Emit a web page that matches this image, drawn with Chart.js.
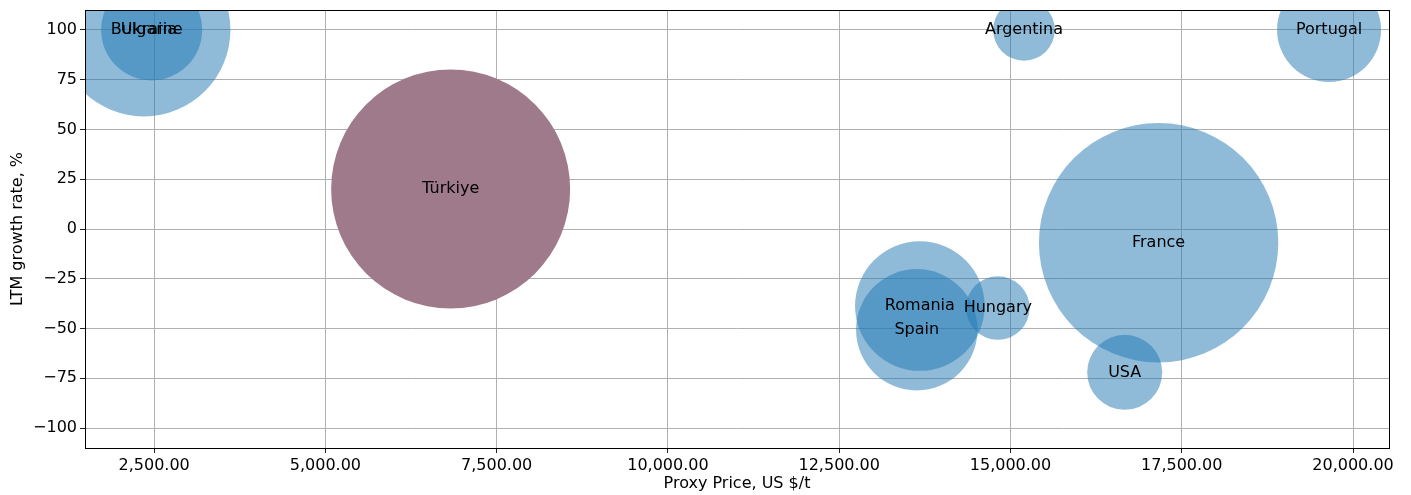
<!DOCTYPE html>
<html>
<head>
<meta charset="utf-8">
<script src="https://cdn.jsdelivr.net/npm/chart.js@4.4.0/dist/chart.umd.min.js"></script>
<style>
  html, body { margin: 0; padding: 0; background: #fff; }
  canvas { display: block; }
</style>
</head>
<body>
<canvas id="bubbleChart" width="1411" height="495"></canvas>
<script>
// data
const countries = ["Bulgaria", "Ukraine", "Türkiye", "Argentina", "Portugal", "France", "Romania", "Spain", "Hungary", "USA"];
const proxyPrice = [2351, 2464, 6828, 15197, 19650, 17162, 13677, 13632, 14815, 16667];
const growthRate = [100, 100, 20.1, 100, 100, -6.9, -38.7, -50.6, -39.7, -72.0];
const bubbleSize = [86.5, 50.5, 119.5, 30.8, 52, 119.7, 64.8, 60.7, 31.8, 37.5];
const xTicks = [2500, 5000, 7500, 10000, 12500, 15000, 17500, 20000];
const yTicks = [-100, -75, -50, -25, 0, 25, 50, 75, 100];

const blue = "rgba(31,119,180,0.5)";
const pointColors = countries.map(c => (c === "Türkiye" ? "#9f7a8a" : blue));

Chart.defaults.font.family = "'DejaVu Sans', sans-serif";
Chart.defaults.font.size = 16;
Chart.defaults.color = "#000";

// big bubbles should be cut at the frame, not shrink the plot area
Chart.BubbleController.prototype.getMaxOverflow = function () { return 0; };

// country names in the middle of each bubble
const labelPlugin = {
  id: "bubbleLabels",
  afterDraw(chart) {
    const ctx = chart.ctx;
    const meta = chart.getDatasetMeta(0);
    ctx.save();
    ctx.font = "16px 'DejaVu Sans', sans-serif";
    ctx.fillStyle = "#000";
    ctx.textAlign = "center";
    ctx.textBaseline = "middle";
    meta.data.forEach((pt, i) => {
      ctx.fillText(countries[i], pt.x, pt.y);
    });
    // frame around plot area
    const a = chart.chartArea;
    ctx.strokeStyle = "#000";
    ctx.lineWidth = 1;
    ctx.strokeRect(Math.round(a.left) + 0.5, Math.round(a.top) + 0.5, Math.round(a.right - a.left), Math.round(a.bottom - a.top));
    ctx.restore();
  },
};

const ctx = document.getElementById("bubbleChart").getContext("2d");
new Chart(ctx, {
  type: "bubble",
  data: {
    datasets: [
      {
        data: countries.map((c, i) => ({ x: proxyPrice[i], y: growthRate[i], r: bubbleSize[i] })),
        backgroundColor: pointColors,
        borderWidth: 0,
        clip: 0,
      },
    ],
  },
  options: {
    responsive: false,
    animation: false,
    devicePixelRatio: 1,
    layout: { padding: { left: 0, top: 10, right: 22, bottom: 0 } },
    plugins: {
      legend: { display: false },
      tooltip: { enabled: false },
    },
    scales: {
      x: {
        type: "linear",
        min: 1491,
        max: 20525,
        z: 1,
        afterBuildTicks: (scale) => { scale.ticks = xTicks.map(v => ({ value: v })); },
        afterFit: (scale) => { scale.height = 47; },
        ticks: {
          padding: 3,
          maxRotation: 0,
          callback: (v) => v.toLocaleString("en-US", { minimumFractionDigits: 2, maximumFractionDigits: 2 }),
        },
        grid: { color: "#b0b0b0", lineWidth: 1, tickLength: 5, tickColor: "#222" },
        border: { color: "#000", width: 1 },
        title: { display: true, text: "Proxy Price, US $/t", padding: { top: 0, bottom: 2 } },
      },
      y: {
        type: "linear",
        min: -110,
        max: 110,
        z: 1,
        afterBuildTicks: (scale) => { scale.ticks = yTicks.map(v => ({ value: v })); },
        afterFit: (scale) => {
          scale.width = 85;
          scale.paddingTop = 0;
          scale.paddingBottom = 0;
        },
        ticks: {
          padding: 3,
          callback: (v) => (v < 0 ? "\u2212" + Math.abs(v) : String(v)),
        },
        grid: { color: "#b0b0b0", lineWidth: 1, tickLength: 5, tickColor: "#222" },
        border: { color: "#000", width: 1 },
        title: { display: true, text: "LTM growth rate, %", padding: { top: 8, bottom: 0 } },
      },
    },
  },
  plugins: [labelPlugin],
});
</script>
</body>
</html>
